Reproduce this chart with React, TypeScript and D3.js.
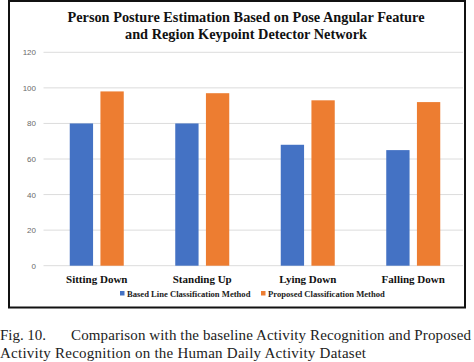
import React from "react";
import * as d3 from "d3";

const categories = ["Sitting Down", "Standing Up", "Lying Down", "Falling Down"];
const seriesNames = ["Based Line Classification Method", "Proposed Classification Method"];
const baselineValues = [80, 80, 68, 65];
const proposedValues = [98, 97, 93, 92];
const yTicks = [0, 20, 40, 60, 80, 100, 120];
const colors = ["#4472C4", "#ED7D31"];

const W = 474;
const H = 362;
const serif = "'Liberation Serif', 'Times New Roman', serif";
const sans = "'Liberation Sans', Arial, sans-serif";

export default function App() {
  const x = d3.scaleBand().domain(categories).range([44, 466]).paddingInner(0).paddingOuter(0);
  const inner = d3.scaleBand().domain(seriesNames).range([0, 54]).paddingInner(0.24);
  const y = d3.scaleLinear().domain([0, 120]).range([265.7, 52.3]);
  const groupOffset = (x.bandwidth() - 54) / 2;
  const series = [baselineValues, proposedValues];

  return (
    <div style={{ position: "fixed", left: 0, top: 0 }}>
      <svg width={W} height={H} style={{ display: "block", background: "#fff" }}>
        <rect x={9} y={1} width={456} height={306.5} fill="none" stroke="#111" strokeWidth={2} />
        <text x={246} y={22} textAnchor="middle" fontFamily={serif} fontWeight="bold" fontSize={14.3} fill="#111">
          Person Posture Estimation Based on Pose Angular Feature
        </text>
        <text x={246} y={39} textAnchor="middle" fontFamily={serif} fontWeight="bold" fontSize={14.3} fill="#111">
          and Region Keypoint Detector Network
        </text>
        {yTicks.map((t) => (
          <g key={t}>
            <line x1={43.5} x2={463} y1={y(t)} y2={y(t)} stroke="#dcdcdc" strokeWidth={1} />
            <text x={36} y={y(t) + 3} textAnchor="end" fontFamily={sans} fontSize={8} fill="#6a6a6a">
              {t}
            </text>
          </g>
        ))}
        {series.map((vals, si) =>
          vals.map((v, ci) => (
            <rect
              key={`${si}-${ci}`}
              x={(x(categories[ci]) as number) + groupOffset + (inner(seriesNames[si]) as number)}
              y={y(v)}
              width={inner.bandwidth()}
              height={y(0) - y(v)}
              fill={colors[si]}
            />
          ))
        )}
        {categories.map((c) => (
          <text
            key={c}
            x={(x(c) as number) + x.bandwidth() / 2}
            y={283}
            textAnchor="middle"
            fontFamily={serif}
            fontWeight="bold"
            fontSize={11}
            fill="#111"
          >
            {c}
          </text>
        ))}
        {seriesNames.map((s, i) => {
          const lx = [120, 261][i];
          return (
            <g key={s}>
              <rect x={lx} y={291} width={4.5} height={4.5} fill={colors[i]} />
              <text x={lx + 7} y={296.5} fontFamily={serif} fontWeight="bold" fontSize={8.6} fill="#222">
                {s}
              </text>
            </g>
          );
        })}
        <text x={0} y={340} fontFamily={serif} fontSize={15} fill="#222" textLength={46} lengthAdjust="spacing">
          Fig. 10.
        </text>
        <text x={71} y={340} fontFamily={serif} fontSize={15} fill="#222" textLength={400} lengthAdjust="spacing">
          Comparison with the baseline Activity Recognition and Proposed
        </text>
        <text x={0} y={357.5} fontFamily={serif} fontSize={15} fill="#222" textLength={366} lengthAdjust="spacing">
          Activity Recognition on the Human Daily Activity Dataset
        </text>
      </svg>
    </div>
  );
}
